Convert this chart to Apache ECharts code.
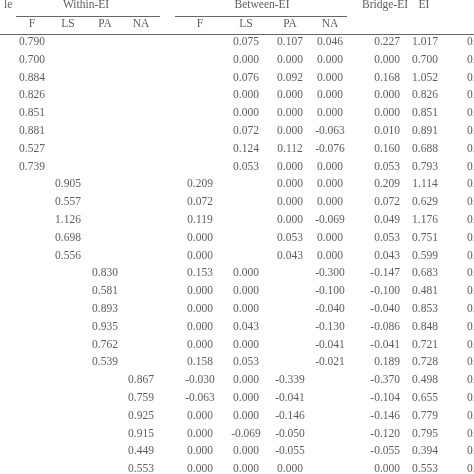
<!DOCTYPE html>
<html>
<head>
<meta charset="utf-8">
<script src="https://cdn.jsdelivr.net/npm/echarts@6/dist/echarts.min.js"></script>
<style>html,body{margin:0;padding:0;background:#fff}#c{width:474px;height:474px}</style>
</head>
<body>
<div id="c"></div>
<script>
// table values, one array per column (null = empty cell)
var withinF  = [0.790,0.700,0.884,0.826,0.851,0.881,0.527,0.739];
var withinLS = [0.905,0.557,1.126,0.698,0.556];
var withinPA = [0.830,0.581,0.893,0.935,0.762,0.539];
var withinNA = [0.867,0.759,0.925,0.915,0.449,0.553];
var betweenF  = [null,null,null,null,null,null,null,null,
                 0.209,0.072,0.119,0.000,0.000,0.153,0.000,0.000,0.000,0.000,0.158,-0.030,-0.063,0.000,0.000,0.000,0.000];
var betweenLS = [0.075,0.000,0.076,0.000,0.000,0.072,0.124,0.053,null,null,null,null,null,
                 0.000,0.000,0.000,0.043,0.000,0.053,0.000,0.000,0.000,-0.069,0.000,0.000];
var betweenPA = [0.107,0.000,0.092,0.000,0.000,0.000,0.112,0.000,0.000,0.000,0.000,0.053,0.043,
                 null,null,null,null,null,null,-0.339,-0.041,-0.146,-0.050,-0.055,0.000];
var betweenNA = [0.046,0.000,0.000,0.000,0.000,-0.063,-0.076,0.000,0.000,0.000,-0.069,0.000,0.000,
                 -0.300,-0.100,-0.040,-0.130,-0.041,-0.021];
var bridgeEI = [0.227,0.000,0.168,0.000,0.000,0.010,0.160,0.053,0.209,0.072,0.049,0.053,0.043,
                -0.147,-0.100,-0.040,-0.086,-0.041,0.189,-0.370,-0.104,-0.146,-0.120,-0.055,0.000];
var totalEI = [1.017,0.700,1.052,0.826,0.851,0.891,0.688,0.793,1.114,0.629,1.176,0.751,0.599,
               0.683,0.481,0.853,0.848,0.721,0.728,0.498,0.655,0.779,0.795,0.394,0.553];
var subHeaders = ['F','LS','PA','NA','F','LS','PA','NA','Bridge-EI','EI'];

// layout: column x (pixels) and row offsets
var colX = [32,68,105,141,200,246,290,330,400,425];
var rowH = 17.8, rowTop = 42;

function pad(arr, start){ var a=[]; for(var i=0;i<start;i++) a.push(null); return a.concat(arr); }
var columns = [
  pad(withinF,0), pad(withinLS,8), pad(withinPA,13), pad(withinNA,19),
  betweenF, betweenLS, betweenPA, betweenNA, bridgeEI, totalEI
];

var font = 'Liberation Serif';
var series = [];
columns.forEach(function(col, c){
  var d = [];
  col.forEach(function(v, r){ if(v !== null && v !== undefined) d.push([colX[c], r, v]); });
  series.push({
    type:'scatter', symbolSize:0, data:d, silent:true,
    label:{show:true, position:'inside', color:'#333', fontFamily:font, fontSize:11.5,
      align: c===8 ? 'right' : 'center',
      formatter:function(p){ return p.data[2].toFixed(3); }}
  });
});
// clipped next column at right edge
series.push({type:'scatter', symbolSize:0, silent:true,
  data: totalEI.map(function(v,r){ return [467, r, '0.']; }),
  label:{show:true, position:'inside', align:'left', color:'#333', fontFamily:font, fontSize:11.5,
    formatter:function(p){ return p.data[2]; }}});

// header texts + rules
var headRow = -2.1, subRow = -1.0;
var hdr = [[4,headRow,'le','left'],[86,headRow,'Within-EI','center'],[262,headRow,'Between-EI','center'],
           [385,subRow-1.1,'Bridge-EI','center'],[424,subRow-1.1,'EI','center']];
subHeaders.slice(0,8).forEach(function(h,i){ hdr.push([colX[i], subRow, h, 'center']); });
series.push({type:'scatter', symbolSize:0, silent:true,
  data: hdr.map(function(h){ return {value:[h[0],h[1]], name:h[2], label:{align:h[3]}}; }),
  label:{show:true, position:'inside', color:'#333', fontFamily:font, fontSize:11.5,
    formatter:function(p){ return p.name; }},
  markLine:{silent:true, symbol:'none', label:{show:false},
    lineStyle:{color:'#666', width:1, type:'solid'},
    data:[
      [{coord:[16,-1.46]},{coord:[160,-1.46]}],
      [{coord:[175,-1.46]},{coord:[347,-1.46]}],
      [{coord:[0,-0.45]},{coord:[474,-0.45]}]
    ]}
});

var yMin = -rowTop/rowH;
var chart = echarts.init(document.getElementById('c'));
chart.setOption({
  animation:false,
  grid:{left:0,right:0,top:0,bottom:0},
  xAxis:{type:'value', min:0, max:474, show:false},
  yAxis:{type:'value', inverse:true, min:yMin, max:yMin+474/rowH, show:false},
  series:series
});
</script>
</body>
</html>
